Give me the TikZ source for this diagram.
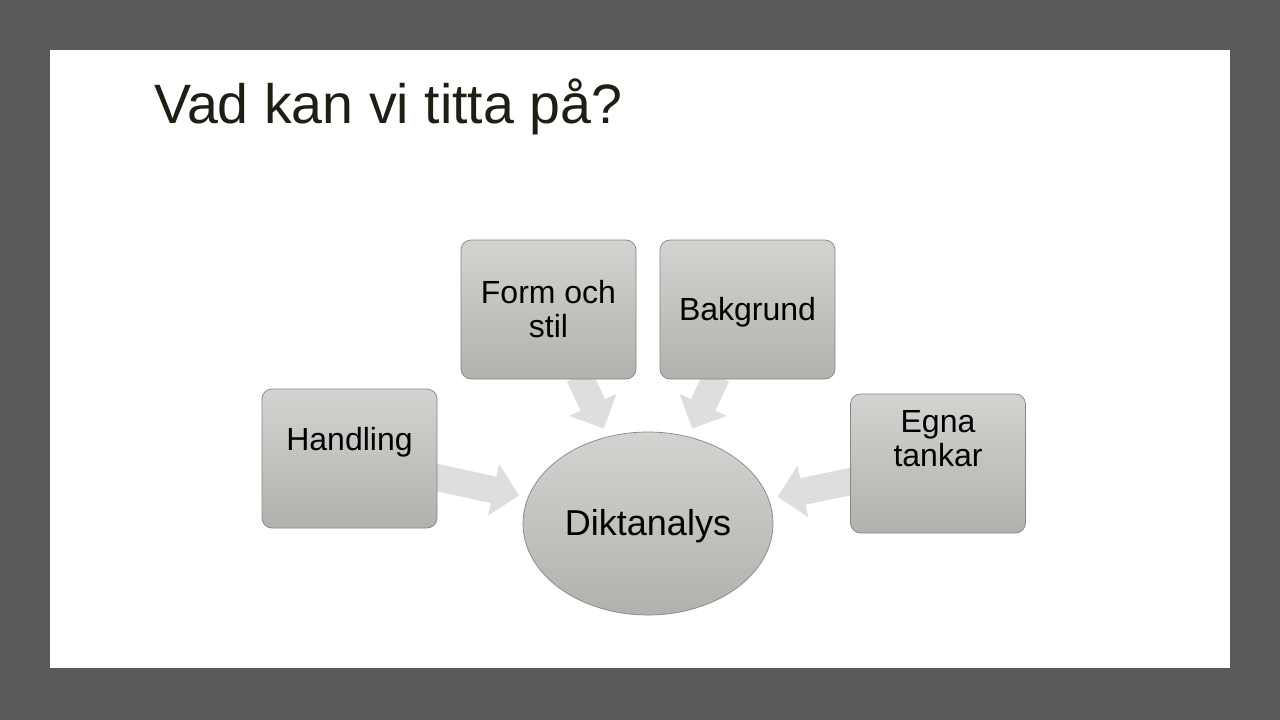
\documentclass[tikz,border=0pt]{standalone}
\usepackage{fontspec}
\setmainfont{Liberation Sans}
\usetikzlibrary{arrows.meta,shapes.geometric,backgrounds}

\definecolor{framegray}{HTML}{5A5A5A}
\definecolor{titleink}{HTML}{1E1E14}
\definecolor{boxtop}{HTML}{D3D3D1}
\definecolor{boxbot}{HTML}{B1B1AD}
\definecolor{boxline}{HTML}{858585}
\definecolor{flowgray}{HTML}{DEDEDE}

\begin{document}
\begin{tikzpicture}[x=1pt,y=-1pt,
                    box/.style={rectangle,draw=boxline,line width=0.7pt,rounded corners=10pt,
                                minimum width=175pt,minimum height=139pt,inner sep=0pt,
                                top color=boxtop,bottom color=boxbot},
                    boxtext/.style={anchor=north,align=center,inner sep=0pt,
                                    font=\fontsize{32}{34}\selectfont},
                    flow/.style={draw=flowgray,line width=27pt,
                                 -{Triangle[width=51pt,length=26pt]},
                                 shorten <=-4pt,shorten >=9pt}]

\useasboundingbox (0,0) rectangle (1280,720);

\node[anchor=base west,inner sep=0pt,text=titleink,font=\fontsize{55.5}{60}\selectfont]
  (title) at (154,123.5) {Vad kan vi titta på?};

% the four sources
\node[box] (handling) at (349.5,458.5) {};
\node[box] (form) at (548.5,309.5) {};
\node[box] (bakgrund) at (747.5,309.5) {};
\node[box] (egna) at (938,463.5) {};

\node[boxtext] (handling-txt) at (349.5,427) {Handling};
\node[boxtext] (form-txt) at (548.5,280) {Form och\\stil};
\node[boxtext] (bakgrund-txt) at (747.5,297) {Bakgrund};
\node[boxtext] (egna-txt) at (938,410) {Egna\\tankar};

% the centre
\node[ellipse,draw=boxline,line width=0.7pt,minimum width=250pt,minimum height=183pt,
      top color=boxtop,bottom color=boxbot,inner sep=0pt,text height=30pt,text depth=7pt,
      font=\fontsize{36}{40}\selectfont] (dikt) at (648,523.5) {Diktanalys};

\begin{scope}[on background layer]
  \fill[framegray] (0,0) rectangle (1280,720);
  \fill[white] (50,50) rectangle (1230,668);
  \draw[flow] (handling) -- (dikt);
  \draw[flow] (form) -- (dikt);
  \draw[flow] (bakgrund) -- (dikt);
  \draw[flow] (egna) -- (dikt);
\end{scope}

\end{tikzpicture}
\end{document}
